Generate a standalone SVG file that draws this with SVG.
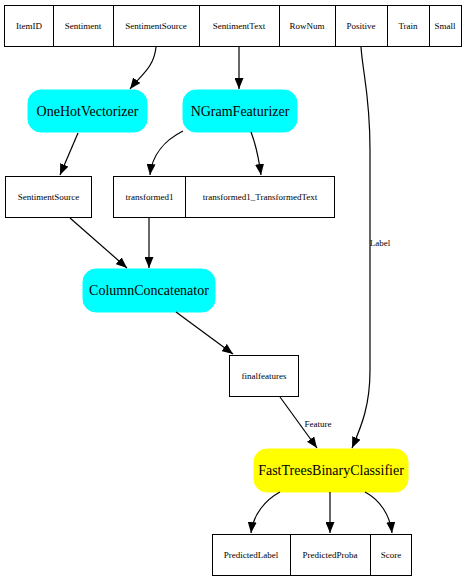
<svg xmlns="http://www.w3.org/2000/svg" width="474" height="582" viewBox="0 0 474 582">
<defs>
<marker id="ah" markerUnits="userSpaceOnUse" markerWidth="11" markerHeight="9" refX="11" refY="4.5" orient="auto">
<path d="M0,0 L11,4.5 L0,9 z" fill="#000"/>
</marker>
<style>
.box{fill:#fff;stroke:#000;stroke-width:1}
.cell{stroke:#000;stroke-width:1}
text{font-family:'Liberation Serif','Times New Roman',serif;text-anchor:middle;fill:#000}
.t{font-size:9px}
.n{font-size:14px}
.e{fill:none;stroke:#000;stroke-width:1.2;marker-end:url(#ah)}
.cy{fill:#00ffff;stroke:#00ffff}
.yl{fill:#ffff00;stroke:#ffff00}
</style>
</defs>
<rect width="474" height="582" fill="#fff"/>
<g id="input" font-family="Liberation Serif">
<rect class="box" x="4.5" y="5.5" width="457" height="41"/>
<path class="cell" d="M53.5,5.5V46.5M113.5,5.5V46.5M199.5,5.5V46.5M279.5,5.5V46.5M335.5,5.5V46.5M387.5,5.5V46.5M429.5,5.5V46.5"/>
<text class="t" x="29" y="29">ItemID</text>
<text class="t" x="83" y="29">Sentiment</text>
<text class="t" x="156" y="29">SentimentSource</text>
<text class="t" x="239" y="29">SentimentText</text>
<text class="t" x="307" y="29">RowNum</text>
<text class="t" x="361" y="29">Positive</text>
<text class="t" x="408" y="29">Train</text>
<text class="t" x="445" y="29">Small</text>
</g>
<g id="OneHotVectorizer">
<rect class="cy" x="28" y="90" width="119" height="42" rx="13"/>
<text class="n" x="87.5" y="116">OneHotVectorizer</text>
</g>
<g id="NGramFeaturizer">
<rect class="cy" x="183" y="90" width="114" height="42" rx="13"/>
<text class="n" x="240" y="116">NGramFeaturizer</text>
</g>
<g id="SentimentSourceNode">
<rect class="box" x="5.5" y="176.5" width="86" height="41"/>
<text class="t" x="48.5" y="200">SentimentSource</text>
</g>
<g id="transformed">
<rect class="box" x="113.5" y="176.5" width="221" height="41"/>
<path class="cell" d="M185.5,176.5V217.5"/>
<text class="t" x="149.5" y="200">transformed1</text>
<text class="t" x="260" y="200">transformed1_TransformedText</text>
</g>
<g id="ColumnConcatenator">
<rect class="cy" x="83" y="269" width="132" height="43" rx="13"/>
<text class="n" x="149" y="295">ColumnConcatenator</text>
</g>
<g id="finalfeatures">
<rect class="box" x="229.5" y="355.5" width="69" height="41"/>
<text class="t" x="264" y="379">finalfeatures</text>
</g>
<g id="FastTreesBinaryClassifier">
<rect class="yl" x="254" y="449" width="154" height="43" rx="13"/>
<text class="n" x="331" y="475">FastTreesBinaryClassifier</text>
</g>
<g id="output">
<rect class="box" x="212.5" y="534.5" width="199" height="41"/>
<path class="cell" d="M290.5,534.5V575.5M370.5,534.5V575.5"/>
<text class="t" x="251" y="558">PredictedLabel</text>
<text class="t" x="330" y="558">PredictedProba</text>
<text class="t" x="391" y="558">Score</text>
</g>
<g id="connectors">
<path class="e" d="M156,47 C154,68 140,76 130,89"/>
<path class="e" d="M239,47 L239,89"/>
<path class="e" d="M361,47 C363,75 370,95 370,150 L370,370 C370,405 362,425 352,448"/>
<path class="e" d="M78,133 L60,175"/>
<path class="e" d="M183,131 C165,140 152,155 150,175"/>
<path class="e" d="M251,132 C256,145 259,160 261,175"/>
<path class="e" d="M70,218 L127,268"/>
<path class="e" d="M149,218 L149,268"/>
<path class="e" d="M176,312 L233,354"/>
<path class="e" d="M280,397 L317,448"/>
<path class="e" d="M280,492 C265,500 253,515 251,533"/>
<path class="e" d="M330,492 L330,533"/>
<path class="e" d="M365,492 C380,500 390,515 392,533"/>
<text class="t" x="380" y="246">Label</text>
<text class="t" x="318" y="427">Feature</text>
</g>
</svg>
